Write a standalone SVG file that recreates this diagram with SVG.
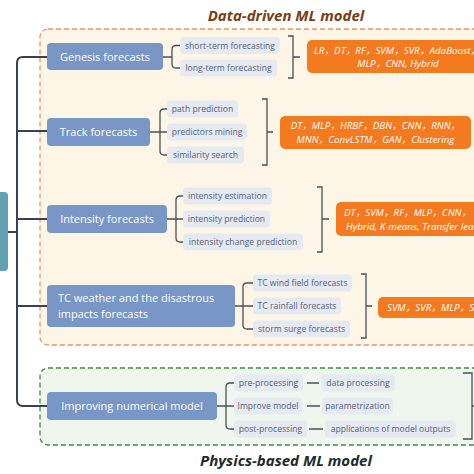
<svg xmlns="http://www.w3.org/2000/svg" width="474" height="474" viewBox="0 0 474 474">
<defs>
<style>
.node{fill:#7896c6}
.nt{font-family:"Open Sans","Noto Sans",sans-serif;font-size:11px;fill:#fff}
.pill{fill:#e4e9f2}
.pt{font-family:"Open Sans","Noto Sans",sans-serif;font-size:8.6px;fill:#56627a;text-anchor:middle}
.ob{fill:#f47a1f}
.ot{font-family:"Open Sans","Noto Sans","Noto Sans CJK SC",sans-serif;font-size:9.8px;font-style:italic;fill:#fff}
.trunk{fill:none;stroke:#38414d;stroke-width:2}
.br{fill:none;stroke:#4a4f57;stroke-width:1.3}
.title{font-family:"Open Sans","Noto Sans",sans-serif;font-size:15px;font-weight:bold;font-style:italic;text-anchor:middle}
</style>
</defs>
<rect width="474" height="474" fill="#fff"/>
<!-- group frames -->
<rect x="40" y="29" width="450" height="316" rx="8" fill="#fdf6e7" stroke="#e8946a" stroke-width="1.3" stroke-dasharray="5,3"/>
<rect x="40" y="368" width="450" height="77" rx="8" fill="#eef6ee" stroke="#3f8c45" stroke-width="1.3" stroke-dasharray="5,3"/>
<text class="title" x="286" y="21" fill="#7a3d12">Data-driven ML model</text>
<text class="title" x="286" y="466" fill="#1d2b2b">Physics-based ML model</text>

<!-- connectors -->
<g id="connectors">
<path class="trunk" d="M47 57 H23 Q17 57 17 63 V400 Q17 406 23 406 H47"/>
<path class="trunk" d="M17 131 H47 M17 219 H47 M17 306 H47 M8 232 H17"/>
<!-- genesis -->
<path class="br" d="M163 57 H172 M180 45.5 H176 Q172 45.5 172 49.5 V64 Q172 68 176 68 H180"/>
<path class="br" d="M288 36 H293 V78 H288 M293 57 H300"/>
<!-- track -->
<path class="br" d="M150 132 H167 M167 109 H164 Q160 109 160 113 V151 Q160 155 164 155 H167"/>
<path class="br" d="M262 99 H267 V165 H262 M267 132 H273"/>
<!-- intensity -->
<path class="br" d="M167 219 H183 M183 196 H180 Q176 196 176 200 V238 Q176 242 180 242 H183"/>
<path class="br" d="M317 187 H322 V252 H317 M322 219 H329"/>
<!-- TC weather -->
<path class="br" d="M235 306 H253 M253 283 H247 Q243 283 243 287 V325 Q243 329 247 329 H253"/>
<path class="br" d="M361 274 H366 V338 H361 M366 306 H372"/>
<!-- improving -->
<path class="br" d="M217 406 H234 M234 383 H230 Q226 383 226 387 V425 Q226 429 230 429 H234"/>
<path class="br" d="M307 383 H319 M307 406 H320 M309 429 H323"/>
<path class="br" d="M463 373 H472 V439 H463 M472 406 H478"/>
</g>

<!-- root -->
<g id="root"><rect x="-10" y="192" width="18" height="79" rx="4" fill="#62a0b6"/></g>

<g id="genesis">
<rect class="node" x="47" y="43" width="116" height="27" rx="4"/>
<text class="nt" x="105" y="61" text-anchor="middle">Genesis forecasts</text>
</g>
<g id="track">
<rect class="node" x="47" y="118" width="103" height="28" rx="4"/>
<text class="nt" x="98.5" y="136" text-anchor="middle">Track forecasts</text>
</g>
<g id="intensity">
<rect class="node" x="47" y="205" width="120" height="28" rx="4"/>
<text class="nt" x="107" y="223" text-anchor="middle">Intensity forecasts</text>
</g>
<g id="tcweather">
<rect class="node" x="47" y="285" width="188" height="42" rx="4"/>
<text class="nt" x="58" y="302">TC weather and the disastrous</text>
<text class="nt" x="58" y="318">impacts forecasts</text>
</g>
<g id="improving">
<rect class="node" x="47" y="392" width="170" height="28" rx="4"/>
<text class="nt" x="132" y="410" text-anchor="middle">Improving numerical model</text>
</g>

<!-- sub items -->
<g id="short-term"><rect class="pill" x="180" y="37" width="100" height="17" rx="4"/><text class="pt" x="230" y="48.5">short-term forecasting</text></g>
<g id="long-term"><rect class="pill" x="180" y="59.5" width="97" height="17" rx="4"/><text class="pt" x="228.5" y="71">long-term forecasting</text></g>
<g id="path"><rect class="pill" x="167" y="100.5" width="71" height="17" rx="4"/><text class="pt" x="202.5" y="112">path prediction</text></g>
<g id="predictors"><rect class="pill" x="167" y="123.5" width="80" height="17" rx="4"/><text class="pt" x="207" y="135">predictors mining</text></g>
<g id="similarity"><rect class="pill" x="167" y="146.5" width="77" height="17" rx="4"/><text class="pt" x="205.5" y="158">similarity search</text></g>
<g id="int-est"><rect class="pill" x="183" y="187.5" width="89" height="17" rx="4"/><text class="pt" x="227.5" y="199">intensity estimation</text></g>
<g id="int-pred"><rect class="pill" x="183" y="210.5" width="87" height="17" rx="4"/><text class="pt" x="226.5" y="222">intensity prediction</text></g>
<g id="int-change"><rect class="pill" x="183" y="233.5" width="120" height="17" rx="4"/><text class="pt" x="243" y="245">intensity change prediction</text></g>
<g id="wind"><rect class="pill" x="253" y="274.5" width="99" height="17" rx="4"/><text class="pt" x="302.5" y="286">TC wind field forecasts</text></g>
<g id="rain"><rect class="pill" x="253" y="297.5" width="88" height="17" rx="4"/><text class="pt" x="297" y="309">TC rainfall forecasts</text></g>
<g id="surge"><rect class="pill" x="253" y="320.5" width="97" height="17" rx="4"/><text class="pt" x="301.5" y="332">storm surge forecasts</text></g>
<g id="pre"><rect class="pill" x="234" y="374.5" width="69" height="17" rx="4"/><text class="pt" x="268.5" y="386">pre-processing</text></g>
<g id="data"><rect class="pill" x="321" y="374.5" width="74" height="17" rx="4"/><text class="pt" x="358" y="386">data  processing</text></g>
<g id="improve"><rect class="pill" x="234" y="397.5" width="68" height="17" rx="4"/><text class="pt" x="268" y="409">Improve model</text></g>
<g id="param"><rect class="pill" x="322" y="397.5" width="71" height="17" rx="4"/><text class="pt" x="357.5" y="409">parametrization</text></g>
<g id="post"><rect class="pill" x="234" y="420.5" width="73" height="17" rx="4"/><text class="pt" x="270.5" y="432">post-processing</text></g>
<g id="apps"><rect class="pill" x="325" y="420.5" width="131" height="17" rx="4"/><text class="pt" x="390.5" y="432">applications of model outputs</text></g>

<!-- method boxes -->
<g id="m-genesis"><rect class="ob" x="307" y="40" width="180" height="33" rx="5"/>
<text class="ot" x="314" y="53.5">LR，DT，RF，SVM，SVR，AdaBoost，</text>
<text class="ot" x="398" y="66.5" text-anchor="middle">MLP，CNN, Hybrid</text></g>
<g id="m-track"><rect class="ob" x="280" y="116" width="191" height="33" rx="5"/>
<text class="ot" x="375.5" y="129" text-anchor="middle">DT，MLP，HRBF，DBN，CNN，RNN，</text>
<text class="ot" x="375.5" y="142.5" text-anchor="middle">MNN，ConvLSTM，GAN，Clustering</text></g>
<g id="m-intensity"><rect class="ob" x="336" y="202" width="150" height="34" rx="5"/>
<text class="ot" x="344" y="216">DT，SVM，RF，MLP，CNN，</text>
<text class="ot" x="346" y="229.5">Hybrid,  K-means, Transfer learning</text></g>
<g id="m-tc"><rect class="ob" x="378" y="297" width="110" height="21" rx="5"/>
<text class="ot" x="387" y="311">SVM，SVR，MLP，S</text></g>
</svg>
